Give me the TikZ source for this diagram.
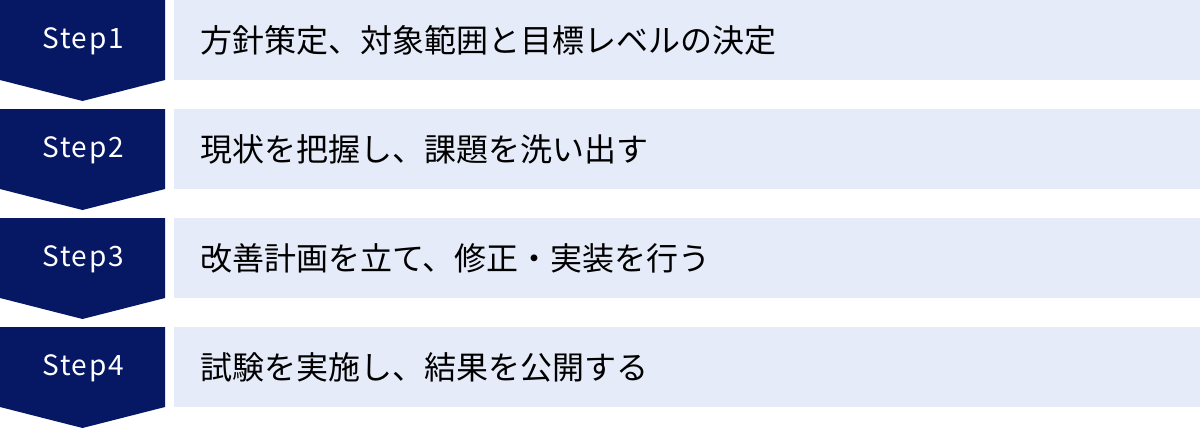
\documentclass[tikz,border=0pt]{standalone}
\usepackage{fontspec}
\setmainfont{Noto Sans CJK JP}
\newfontfamily\stepfont[LetterSpace=6]{Noto Sans CJK JP}
\definecolor{stepnavy}{RGB}{6,24,99}
\definecolor{steplight}{RGB}{230,235,249}

\begin{document}
\begin{tikzpicture}[x=1pt,y=-1pt]
  \tikzset{stepshape/.style = {fill=stepnavy}}
  \tikzset{steplabel/.style = {text=white,font=\stepfont\fontsize{28}{32}\selectfont,inner sep=0pt}}
  \tikzset{taskbox/.style = {fill=steplight,anchor=north west,minimum width=1026pt,minimum height=80pt,
      text width=974pt,align=left,inner xsep=26pt,inner ysep=0pt,font=\fontsize{32}{38}\selectfont}}

  \useasboundingbox (0,0) rectangle (1200,429);

  \foreach \n/\y/\task in {1/0/方針策定、対象範囲と目標レベルの決定,
                           2/109/現状を把握し、課題を洗い出す,
                           3/218/改善計画を立て、修正・実装を行う,
                           4/327/試験を実施し、結果を公開する}
  {
    \fill[stepshape] (0,\y) -- (165,\y) -- (165,\y+80) -- (82.5,\y+101) -- (0,\y+80) -- cycle;
    \node[steplabel] (S\n) at (83,\y+41) {Step\n};
    \node[taskbox] (T\n) at (174,\y) {\task};
  }
\end{tikzpicture}
\end{document}
